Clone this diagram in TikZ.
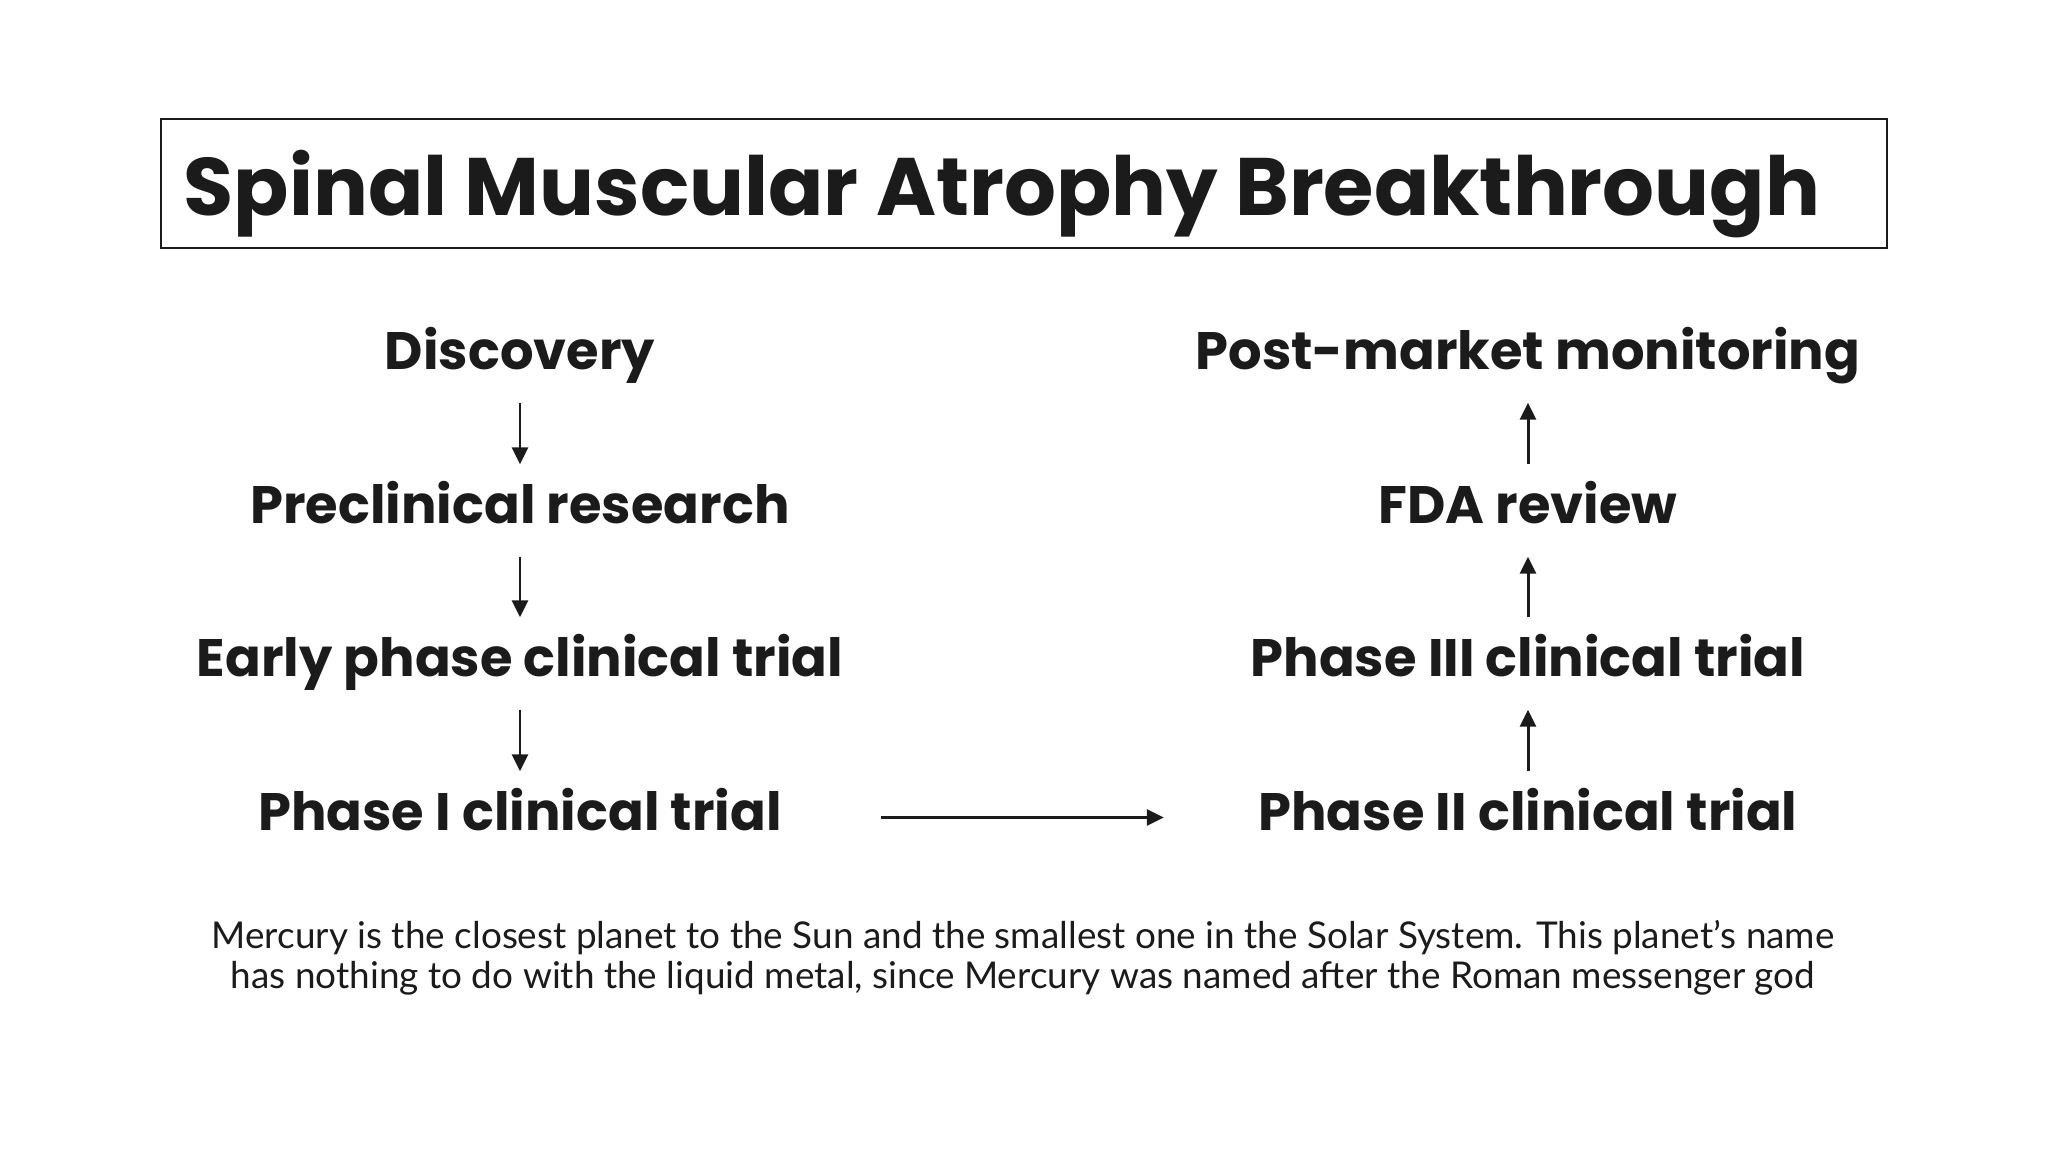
\documentclass[tikz,border=0pt]{standalone}
\usepackage{fontspec}
\setmainfont{Poppins}
\newfontfamily\bodyfont{Lato}
\usetikzlibrary{arrows.meta}
\definecolor{ink}{HTML}{1B1B1B}

\begin{document}
\begin{tikzpicture}[x=1cm,y=1cm,
  stage/.style={anchor=base,inner sep=0pt,text height=0.39cm,text depth=0.12cm,text=ink,
    font=\fontsize{15}{18}\selectfont\bfseries},
  flow/.style={-{Triangle[length=0.17cm,width=0.16cm]},line width=0.85pt,draw=ink,
    shorten <=0.2cm,shorten >=0.2cm}]
\useasboundingbox (0,0) rectangle (20.48,11.52);
% title box
\draw[line width=0.6pt,ink] (1.61,10.33) rectangle (18.87,9.04);
\node[anchor=base west,inner sep=0pt,text=ink,font=\fontsize{23.2}{27}\selectfont\bfseries] (title) at (1.83,9.36) {Spinal Muscular Atrophy Breakthrough};
% left column
\node[stage] (disc) at (5.20,7.82) {Discovery};
\node[stage] (prec) at (5.20,6.28) {Preclinical research};
\node[stage] (early) at (5.20,4.75) {Early phase clinical trial};
\node[stage] (ph1) at (5.20,3.21) {Phase I clinical trial};
% right column
\node[stage] (post) at (15.28,7.82) {Post-market monitoring};
\node[stage] (fda) at (15.28,6.28) {FDA review};
\node[stage] (ph3) at (15.28,4.75) {Phase III clinical trial};
\node[stage] (ph2) at (15.28,3.21) {Phase II clinical trial};
\draw[flow] (disc.south) -- (prec.north);
\draw[flow] (prec.south) -- (early.north);
\draw[flow] (early.south) -- (ph1.north);
\draw[flow,shorten <=0.99cm,shorten >=0.94cm] (ph1.east) -- (ph2.west);
\draw[flow] (ph2.north) -- (ph3.south);
\draw[flow] (ph3.north) -- (fda.south);
\draw[flow] (fda.north) -- (post.south);
% note
\node[align=center,inner sep=0pt,text=ink,font=\bodyfont\fontsize{10.5}{11.5}\selectfont] (note) at (10.23,1.94)
  {Mercury is the closest planet to the Sun and the smallest one in the Solar System. This planet’s name\\
   has nothing to do with the liquid metal, since Mercury was named after the Roman messenger god};
\end{tikzpicture}
\end{document}
